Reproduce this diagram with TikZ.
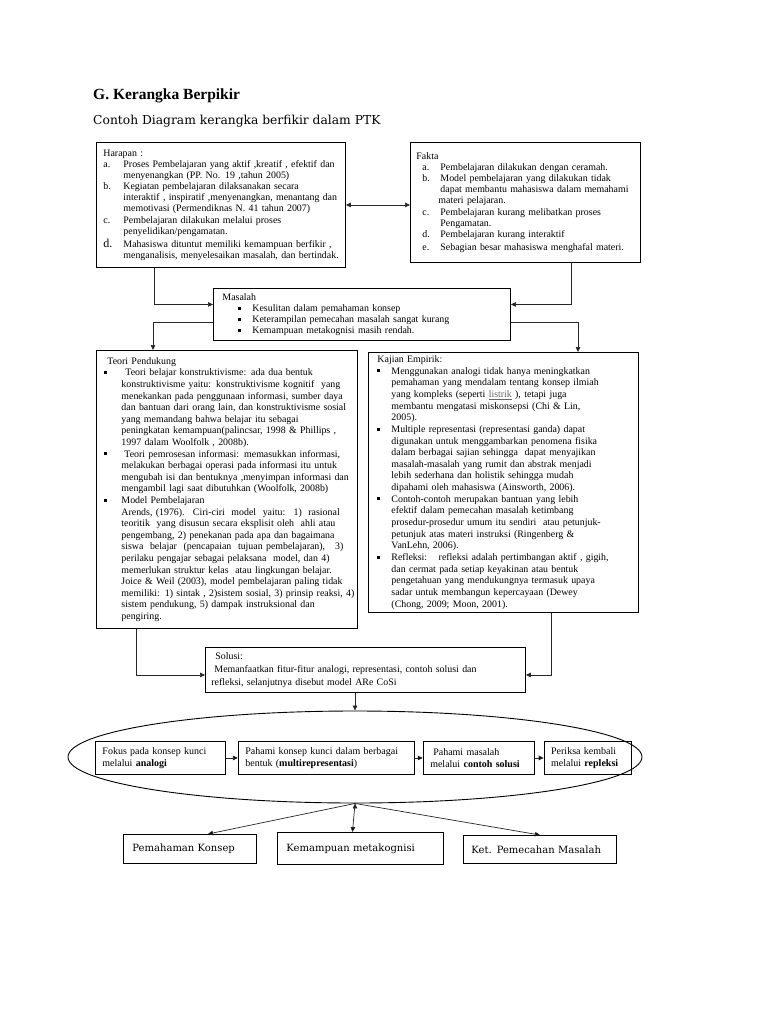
\documentclass[tikz,border=0pt]{standalone}
\usepackage{fontspec}
\setmainfont{Liberation Serif}
\newfontfamily\dvserif{DejaVu Serif}
\usetikzlibrary{arrows.meta,positioning,shapes.geometric}

\newcommand{\sqb}{\raisebox{1.8pt}{\rule{3pt}{3pt}}}
\newcommand{\lbl}[2]{\makebox[#1][l]{#2}}
\newcommand{\nowrap}{\rightskip=0pt plus 1fil minus 40pt\relax}

\tikzset{
  box/.style={draw, line width=0.9pt, rectangle, anchor=north west, align=left,
    inner xsep=5pt, inner ysep=3pt, font=\fontsize{9.9}{11}\selectfont},
  stepbox/.style={draw, line width=0.9pt, rectangle, align=left,
    inner xsep=7pt, inner ysep=3pt, minimum height=33pt, font=\fontsize{10}{11.5}\selectfont},
  hasil/.style={draw, line width=0.9pt, rectangle, anchor=north west, align=left,
    inner xsep=9pt, font=\dvserif\fontsize{10}{12}\selectfont},
  link/.style={draw=black!85, line width=0.7pt, -{Triangle[length=5pt,width=4.5pt]}},
  twolink/.style={draw=black!85, line width=0.7pt,
    {Triangle[length=5pt,width=4.5pt]}-{Triangle[length=5pt,width=4.5pt]}}
}

\begin{document}
\begin{tikzpicture}[x=1pt,y=-1pt]
  \useasboundingbox (0,0) rectangle (768,1024);
  \fill[white] (0,0) rectangle (768,1024);

  % judul
  \node[anchor=west, inner sep=0pt, font=\bfseries\fontsize{15.5}{18}\selectfont] (judul) at (93,96) {G. Kerangka Berpikir};
  \node[anchor=west, inner sep=0pt, font=\dvserif\fontsize{12.3}{15}\selectfont] (subjudul) at (93,121) {Contoh Diagram kerangka berfikir dalam PTK};

  % harapan dan fakta
  \node[box, text width=239pt, minimum height=125pt] (harapan) at (96,142) {\nowrap
    \hspace*{2pt}Harapan :\\
    \hspace*{2pt}\lbl{20pt}{a.}Proses Pembelajaran yang aktif ,kreatif , efektif dan\\
    \hspace*{22pt}menyenangkan (PP. No. 19 ,tahun 2005)\\
    \hspace*{2pt}\lbl{20pt}{b.}Kegiatan pembelajaran dilaksanakan secara\\
    \hspace*{22pt}interaktif , inspiratif ,menyenangkan, menantang dan\\
    \hspace*{22pt}memotivasi (Permendiknas N. 41 tahun 2007)\\[1pt]
    \hspace*{2pt}\lbl{20pt}{c.}Pembelajaran dilakukan melalui proses\\
    \hspace*{22pt}penyelidikan/pengamatan.\\[2pt]
    \hspace*{2pt}\lbl{20pt}{\fontsize{12}{11}\selectfont d.}Mahasiswa dituntut memiliki kemampuan berfikir ,\\
    \hspace*{22pt}menganalisis, menyelesaikan masalah, dan bertindak.};

  \node[box, text width=220pt, minimum height=120pt] (fakta) at (410,142) {\nowrap
    \hspace*{1pt}Fakta\\
    \hspace*{7pt}\lbl{18pt}{a.}Pembelajaran dilakukan dengan ceramah.\\
    \hspace*{7pt}\lbl{18pt}{b.}Model pembelajaran yang dilakukan tidak\\
    \hspace*{25pt}dapat membantu mahasiswa dalam memahami\\
    \hspace*{23pt}materi pelajaran.\\[1pt]
    \hspace*{7pt}\lbl{18pt}{c.}Pembelajaran kurang melibatkan proses\\
    \hspace*{25pt}Pengamatan.\\
    \hspace*{7pt}\lbl{18pt}{d.}Pembelajaran kurang interaktif\\[2pt]
    \hspace*{7pt}\lbl{18pt}{e.}Sebagian besar mahasiswa menghafal materi.};

  % masalah
  \node[box, text width=287pt, minimum height=52pt] (masalah) at (213,288) {\nowrap
    \hspace*{4pt}Masalah\\
    \hspace*{20pt}\lbl{14pt}{\sqb}Kesulitan dalam pemahaman konsep\\
    \hspace*{20pt}\lbl{14pt}{\sqb}Keterampilan pemecahan masalah sangat kurang\\
    \hspace*{20pt}\lbl{14pt}{\sqb}Kemampuan metakognisi masih rendah.};

  % teori dan kajian
  \node[box, text width=251pt, minimum height=278pt, font=\fontsize{9.9}{11.6}\selectfont] (teori) at (96,350) {\nowrap
    \hspace*{6pt}Teori Pendukung\\
    \hspace*{3pt}\lbl{17pt}{\sqb}\hspace*{4pt}Teori belajar konstruktivisme: ada dua bentuk\\
    \hspace*{20pt}konstruktivisme yaitu: konstruktivisme kognitif \ yang\\
    \hspace*{20pt}menekankan pada penggunaan informasi, sumber daya\\
    \hspace*{20pt}dan bantuan dari orang lain, dan konstruktivisme sosial\\
    \hspace*{20pt}yang memandang bahwa belajar itu sebagai\\
    \hspace*{20pt}peningkatan kemampuan(palincsar, 1998 \& Phillips ,\\
    \hspace*{20pt}1997 dalam Woolfolk , 2008b).\\
    \hspace*{3pt}\lbl{17pt}{\sqb}\hspace*{3pt}Teori pemrosesan informasi: memasukkan informasi,\\
    \hspace*{20pt}melakukan berbagai operasi pada informasi itu untuk\\
    \hspace*{20pt}mengubah isi dan bentuknya ,menyimpan informasi dan\\
    \hspace*{20pt}mengambil lagi saat dibutuhkan (Woolfolk, 2008b)\\
    \hspace*{3pt}\lbl{17pt}{\sqb}Model Pembelajaran\\
    \hspace*{20pt}Arends, (1976). \ Ciri-ciri \ model \ yaitu: \ 1) \ rasional\\
    \hspace*{20pt}teoritik \ yang disusun secara eksplisit oleh \ ahli atau\\
    \hspace*{20pt}pengembang, 2) penekanan pada apa dan bagaimana\\
    \hspace*{20pt}siswa \ belajar \ (pencapaian \ tujuan pembelajaran), \ \ 3)\\
    \hspace*{20pt}perilaku pengajar sebagai pelaksana \ model, dan 4)\\
    \hspace*{20pt}memerlukan struktur kelas \ atau lingkungan belajar.\\
    \hspace*{20pt}Joice \& Weil (2003), model pembelajaran paling tidak\\
    \hspace*{20pt}memiliki: 1) sintak , 2)sistem sosial, 3) prinsip reaksi, 4)\\
    \hspace*{20pt}sistem pendukung, 5) dampak instruksional dan\\
    \hspace*{20pt}pengiring.};

  \node[box, text width=260pt, minimum height=260pt, font=\fontsize{9.9}{11.65}\selectfont] (kajian) at (368,352) {\nowrap
    \hspace*{4pt}Kajian Empirik:\\
    \hspace*{4pt}\lbl{14pt}{\sqb}Menggunakan analogi tidak hanya meningkatkan\\
    \hspace*{18pt}pemahaman yang mendalam tentang konsep ilmiah\\
    \hspace*{18pt}yang kompleks (seperti {\color{black!60}\underline{listrik}} ), tetapi juga\\
    \hspace*{18pt}membantu mengatasi miskonsepsi (Chi \& Lin,\\
    \hspace*{18pt}2005).\\
    \hspace*{4pt}\lbl{14pt}{\sqb}Multiple representasi (representasi ganda) dapat\\
    \hspace*{18pt}digunakan untuk menggambarkan penomena fisika\\
    \hspace*{18pt}dalam berbagai sajian sehingga \ dapat menyajikan\\
    \hspace*{18pt}masalah-masalah yang rumit dan abstrak menjadi\\
    \hspace*{18pt}lebih sederhana dan holistik sehingga mudah\\
    \hspace*{18pt}dipahami oleh mahasiswa (Ainsworth, 2006).\\
    \hspace*{4pt}\lbl{14pt}{\sqb}Contoh-contoh merupakan bantuan yang lebih\\
    \hspace*{18pt}efektif dalam pemecahan masalah ketimbang\\
    \hspace*{18pt}prosedur-prosedur umum itu sendiri \ atau petunjuk-\\
    \hspace*{18pt}petunjuk atas materi instruksi (Ringenberg \&\\
    \hspace*{18pt}VanLehn, 2006).\\
    \hspace*{4pt}\lbl{14pt}{\sqb}Refleksi: \ \ refleksi adalah pertimbangan aktif , gigih,\\
    \hspace*{18pt}dan cermat pada setiap keyakinan atau bentuk\\
    \hspace*{18pt}pengetahuan yang mendukungnya termasuk upaya\\
    \hspace*{18pt}sadar untuk membangun kepercayaan (Dewey\\
    \hspace*{18pt}(Chong, 2009; Moon, 2001).};

  % solusi
  \node[box, text width=310pt, minimum height=45pt, font=\fontsize{9.9}{13}\selectfont] (solusi) at (205,647) {\nowrap
    \hspace*{5pt}Solusi:\\
    \hspace*{4pt}Memanfaatkan fitur-fitur analogi, representasi, contoh solusi dan\\
    \hspace*{1pt}refleksi, selanjutnya disebut model ARe CoSi};

  % siklus model
  \node[draw, line width=0.9pt, ellipse, minimum width=574pt, minimum height=92pt] (siklus) at (355,757) {};
  \node[stepbox, anchor=north west, text width=116pt] (fokus) at (95,741)
    {Fokus pada konsep kunci\\melalui \textbf{analogi}};
  \node[stepbox, text width=162pt] (multi) [right=12pt of fokus]
    {\nowrap Pahami konsep kunci dalam berbagai\\bentuk (\textbf{multirepresentasi})};
  \node[stepbox, text width=97pt] (contoh) [right=8pt of multi]
    {\hspace*{3pt}Pahami masalah\\melalui \textbf{contoh solusi}};
  \node[stepbox, text width=73pt] (refleksi) [right=9pt of contoh]
    {Periksa kembali\\melalui \textbf{repleksi}};

  % hasil
  \node[hasil, text width=115pt, minimum height=29pt] (pk) at (123,834) {Pemahaman Konsep};
  \node[hasil, text width=148pt, minimum height=32pt] (km) at (277,832) {Kemampuan metakognisi};
  \node[hasil, inner xsep=8pt, text width=137pt, minimum height=28pt] (kpm) at (463,835) {Ket. Pemecahan Masalah};

  % panah
  \draw[twolink] (harapan.east) -- (harapan.east -| fakta.west);
  \draw[link] ([xshift=58pt]harapan.south west) |- ([yshift=10pt]masalah.west);
  \draw[link] ([xshift=161pt]fakta.south west) |- ([yshift=10pt]masalah.east);
  \draw[link] ([yshift=-8pt]masalah.west) -| ([xshift=57pt]teori.north west);
  \draw[link] ([yshift=-8pt]masalah.east) -| ([xshift=210pt]kajian.north west);
  \draw[link] ([xshift=40pt]teori.south west) |- ([yshift=-5pt]solusi.west);
  \draw[link] ([xshift=183pt]kajian.south west) |- ([yshift=-5pt]solusi.east);
  \draw[link] (siklus.north |- solusi.south) -- (siklus.north);

  \path[link]
    (fokus) edge (multi)
    (multi) edge (contoh)
    (contoh) edge (refleksi)
    (siklus.south) edge ([xshift=18pt]pk.north)
                   edge ([xshift=-8pt]km.north)
                   edge (kpm.north);

\end{tikzpicture}
\end{document}
